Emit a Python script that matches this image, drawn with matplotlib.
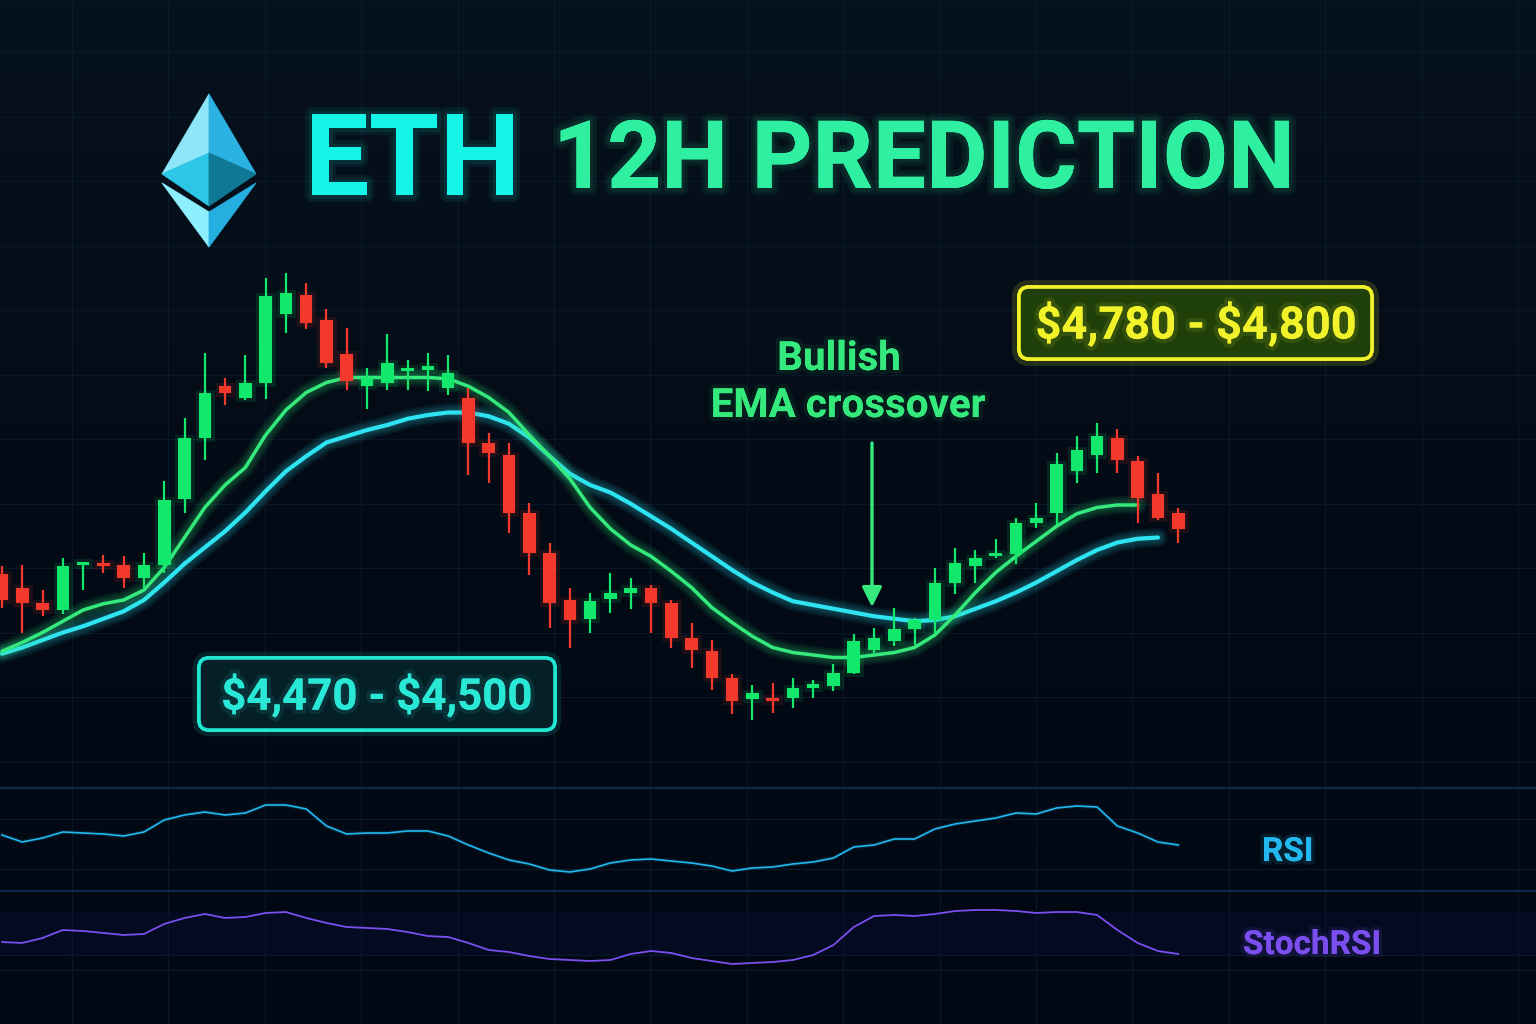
#
# ETH 12H prediction chart: candles, two EMAs, RSI and StochRSI strips
#

import numpy as np
import matplotlib
matplotlib.use("Agg")
import matplotlib.pyplot as plt
import matplotlib.patheffects as pe
from matplotlib.patches import Polygon, FancyBboxPatch, Rectangle

# ---- data ----
opens = [4581, 4570, 4558, 4552, 4588, 4588, 4588, 4578, 4588, 4641,
         4690, 4731, 4722, 4734, 4789, 4804, 4784, 4757, 4731, 4734,
         4743, 4744, 4730, 4722, 4686, 4676, 4630, 4598, 4560, 4545,
         4561, 4566, 4570, 4558, 4530, 4519, 4498, 4481, 4482, 4482,
         4490, 4491, 4502, 4520, 4527, 4537, 4544, 4574, 4587, 4595,
         4597, 4622, 4630, 4663, 4676, 4690, 4671, 4645, 4630]
highs = [4587, 4588, 4568, 4594, 4590, 4596, 4595, 4598, 4655, 4706,
         4758, 4738, 4756, 4818, 4822, 4814, 4793, 4778, 4746, 4773,
         4752, 4758, 4756, 4730, 4694, 4686, 4638, 4606, 4570, 4566,
         4582, 4578, 4572, 4560, 4542, 4528, 4501, 4492, 4494, 4498,
         4496, 4509, 4533, 4538, 4554, 4546, 4586, 4602, 4600, 4609,
         4626, 4638, 4678, 4691, 4702, 4697, 4675, 4662, 4634]
lows = [4554, 4534, 4547, 4549, 4568, 4582, 4570, 4570, 4582, 4630,
        4672, 4716, 4720, 4721, 4774, 4777, 4746, 4728, 4713, 4728,
        4728, 4727, 4724, 4660, 4654, 4614, 4580, 4538, 4522, 4534,
        4550, 4553, 4534, 4522, 4506, 4488, 4469, 4464, 4470, 4474,
        4482, 4487, 4501, 4518, 4523, 4524, 4534, 4565, 4574, 4594,
        4589, 4618, 4620, 4654, 4662, 4662, 4622, 4624, 4606]
closes = [4560, 4558, 4552, 4587, 4589, 4587, 4578, 4588, 4640, 4690,
          4726, 4726, 4734, 4803, 4806, 4782, 4750, 4735, 4738, 4750,
          4746, 4747, 4742, 4686, 4678, 4630, 4598, 4558, 4544, 4559,
          4566, 4570, 4558, 4530, 4520, 4498, 4479, 4486, 4479, 4490,
          4493, 4502, 4527, 4530, 4537, 4544, 4574, 4590, 4594, 4598,
          4622, 4626, 4669, 4680, 4691, 4672, 4642, 4626, 4617]

ema_fast = [4519, 4526, 4534, 4543, 4552, 4557, 4560, 4568, 4586, 4610,
            4634, 4652, 4666, 4692, 4712, 4726, 4734, 4738, 4738, 4738,
            4738, 4738, 4737, 4731, 4722, 4710, 4692, 4675, 4657, 4634,
            4617, 4604, 4595, 4583, 4570, 4554, 4542, 4531, 4522, 4518,
            4516, 4514, 4514, 4516, 4518, 4522, 4532, 4548, 4566, 4582,
            4595, 4607, 4619, 4629, 4634, 4636, 4636]
ema_slow = [4517, 4522, 4528, 4534, 4539, 4545, 4551, 4560, 4574, 4589,
            4602, 4615, 4630, 4647, 4663, 4675, 4686, 4691, 4696, 4700,
            4705, 4708, 4710, 4710, 4707, 4701, 4690, 4675, 4661, 4652,
            4646, 4637, 4627, 4617, 4606, 4595, 4584, 4574, 4566, 4559,
            4556, 4553, 4550, 4547, 4545, 4543, 4544, 4547, 4553, 4559,
            4566, 4574, 4583, 4592, 4600, 4606, 4609, 4610]

rsi = [56.0, 53.2, 54.8, 57.2, 56.8, 56.4, 55.6, 57.2, 62.0, 64.0,
       65.2, 64.0, 64.8, 68.0, 68.0, 66.4, 59.6, 56.4, 56.8, 56.8,
       57.6, 57.6, 55.6, 52.0, 48.8, 46.0, 44.4, 42.0, 41.2, 42.4,
       44.8, 46.0, 46.4, 45.6, 44.8, 43.6, 41.6, 42.8, 43.2, 44.4,
       45.2, 46.8, 51.2, 52.0, 54.4, 54.4, 58.4, 60.4, 61.6, 62.8,
       64.8, 64.4, 66.8, 67.6, 67.2, 59.6, 56.8, 53.2, 52.0]
stoch_rsi = [42.6, 41.2, 48.6, 60.4, 58.9, 56.0, 53.0, 54.5, 69.3, 78.2,
             84.1, 78.2, 79.6, 85.6, 87.0, 78.2, 70.8, 64.8, 63.4, 61.9,
             57.4, 51.5, 50.0, 41.2, 30.8, 27.8, 21.9, 17.5, 16.0, 14.5,
             16.0, 24.9, 29.3, 26.4, 19.0, 14.5, 10.1, 11.6, 13.0, 16.0,
             23.4, 38.2, 64.8, 81.1, 82.6, 81.1, 84.1, 88.5, 90.0, 90.0,
             88.5, 85.6, 87.0, 87.0, 82.6, 60.4, 41.2, 29.3, 24.9]

support_label = "$4,470 - $4,500"
target_label = "$4,780 - $4,800"

# ---- colours ----
BG = "#030a14"
GRID = "#0c1e30"
UP = "#12e86c"
DOWN = "#f2392c"
EMA_FAST = "#35ea7c"
EMA_SLOW = "#2fe4f2"
CYAN = "#22ecd8"
TITLE_GREEN = "#2ef0a0"
YELLOW = "#f2f22a"
RSI_C = "#22b8f0"
STOCH_C = "#7b4ef0"

W, H = 1536, 1024
XLIM = (-2 / 20.28, (W - 2) / 20.28)


def glow(color, widths=(10, 5), alpha=0.07):
    effects = [pe.withStroke(linewidth=w, foreground=color, alpha=alpha)
               for w in widths]
    return effects + [pe.Normal()]


def glow_plot(ax, x, y, color, lw, steps=5, spread=2.2, alpha=0.06):
    for k in range(steps, 0, -1):
        ax.plot(x, y, color=color, lw=lw + k * spread, alpha=alpha,
                solid_capstyle="round", solid_joinstyle="round")
    ax.plot(x, y, color=color, lw=lw, solid_capstyle="round",
            solid_joinstyle="round")


fig = plt.figure(figsize=(W / 100, H / 100), dpi=100)
fig.patch.set_facecolor(BG)

# background / decoration axes in pixel units
bg = fig.add_axes([0, 0, 1, 1])
bg.set_xlim(0, W)
bg.set_ylim(H, 0)
bg.axis("off")
grad = np.linspace(0, 1, 256)[:, None]
bg.imshow(grad, extent=(0, W, H, 0), aspect="auto", zorder=0,
          cmap=matplotlib.colors.LinearSegmentedColormap.from_list(
              "bg", ["#06121c", "#030b16", "#020813"]))

for gx in np.arange(72, W, 96.4):
    bg.axvline(gx, color=GRID, lw=0.8, alpha=0.7, zorder=1)
for gy in np.arange(52, 780, 64.5):
    bg.axhline(gy, color=GRID, lw=0.8, alpha=0.7, zorder=1)
for gy in (819, 869, 955, 970):
    bg.axhline(gy, color=GRID, lw=0.8, alpha=0.8, zorder=1)
for gy in (788, 891):
    bg.axhline(gy, color="#10284a", lw=1.6, zorder=1)
bg.add_patch(Rectangle((0, 912), W, 43, color="#0a1244", alpha=0.3,
                       lw=0, zorder=1))

# ethereum logo
logo = [
    ([(209, 94), (162, 174), (209, 153)], "#8ee6f8"),
    ([(209, 94), (256, 174), (209, 153)], "#2bb2e2"),
    ([(162, 174), (209, 153), (209, 206)], "#2cc6e6"),
    ([(256, 174), (209, 153), (209, 206)], "#0f7894"),
    ([(162, 183), (209, 212), (209, 247)], "#8ef0ff"),
    ([(256, 183), (209, 212), (209, 247)], "#25aee0"),
]
for pts, col in logo:
    bg.add_patch(Polygon(pts, closed=True, facecolor=col, edgecolor=col,
                         lw=0.6, zorder=3))

# title
bg.text(305, 195, "ETH", color="#14f5e8", fontsize=82, fontweight="bold",
        family="Roboto", va="baseline", ha="left", zorder=4,
        path_effects=glow("#14f5e8"))
bg.text(553, 188, "12H PREDICTION", color=TITLE_GREEN, fontsize=68,
        fontweight="bold", family="Roboto", va="baseline", ha="left",
        zorder=4, path_effects=glow(TITLE_GREEN))

# ---- price axes ----
ax = fig.add_axes([0, 0, 1, 1])
ax.set_facecolor("none")
ax.set_xlim(*XLIM)
ax.set_ylim(5040 - 0.8 * H, 5040)
ax.axis("off")

idx = np.arange(len(opens))
o = np.array(opens)
c = np.array(closes)
up = c >= o
colors = np.where(up, UP, DOWN)
body_lo = np.minimum(o, c)
body_h = np.maximum(np.abs(c - o), 2.5)

for i in idx:
    ax.vlines(i, lows[i], highs[i], color=colors[i], lw=1.6, zorder=5)
ax.bar(idx, body_h, bottom=body_lo, width=0.62, color=colors,
       edgecolor=colors, lw=5, alpha=0.12, zorder=4)
ax.bar(idx, body_h, bottom=body_lo, width=0.62, color=colors, lw=0,
       zorder=6)

glow_plot(ax, np.arange(len(ema_slow)), ema_slow, EMA_SLOW, 3.0)
glow_plot(ax, np.arange(len(ema_fast)), ema_fast, EMA_FAST, 2.5)

# price zone boxes
bg.add_patch(FancyBboxPatch((199, 658), 356, 72,
                            boxstyle="round,pad=0,rounding_size=10",
                            facecolor="#062028", edgecolor=CYAN, lw=2.6,
                            alpha=0.95, zorder=7,
                            path_effects=[pe.withStroke(linewidth=9,
                                                        foreground=CYAN,
                                                        alpha=0.12),
                                          pe.Normal()]))
bg.text(377, 696, support_label, color="#2ae8d6", fontsize=31.5,
        fontweight="bold", family="Roboto", ha="center", va="center",
        parse_math=False, zorder=8,
        path_effects=glow("#2ae8d6", widths=(6,), alpha=0.1))

bg.add_patch(FancyBboxPatch((1019, 287), 353, 72,
                            boxstyle="round,pad=0,rounding_size=10",
                            facecolor="#20400a", edgecolor=YELLOW, lw=2.6,
                            zorder=7,
                            path_effects=[pe.withStroke(linewidth=10,
                                                        foreground=YELLOW,
                                                        alpha=0.15),
                                          pe.Normal()]))
bg.text(1196, 325, target_label, color=YELLOW, fontsize=32.5,
        fontweight="bold", family="Roboto", ha="center", va="center",
        parse_math=False, zorder=8,
        path_effects=glow(YELLOW, widths=(6,), alpha=0.1))

# crossover annotation
bg.text(839, 370, "Bullish", color=EMA_FAST, fontsize=29,
        fontweight="bold", family="Roboto", ha="center", va="baseline",
        zorder=8, path_effects=glow(EMA_FAST, widths=(6,), alpha=0.08))
bg.text(848, 417, "EMA crossover", color=EMA_FAST, fontsize=29,
        fontweight="bold", family="Roboto", ha="center", va="baseline",
        zorder=8, path_effects=glow(EMA_FAST, widths=(6,), alpha=0.08))
bg.annotate("", xy=(872, 607), xytext=(872, 443),
            arrowprops=dict(arrowstyle="-|>", color=EMA_FAST, lw=2.4,
                            mutation_scale=30, shrinkA=0, shrinkB=0),
            zorder=8)

# ---- indicator strips ----
ax_rsi = fig.add_axes([0, (H - 890) / H, 1, 110 / H])
ax_rsi.set_facecolor("none")
ax_rsi.set_xlim(*XLIM)
ax_rsi.set_ylim(34, 78)
ax_rsi.axis("off")
ax_rsi.plot(idx, rsi, color=RSI_C, lw=3, alpha=0.12)
ax_rsi.plot(idx, rsi, color=RSI_C, lw=1.2)

ax_st = fig.add_axes([0, (H - 985) / H, 1, 90 / H])
ax_st.set_facecolor("none")
ax_st.set_xlim(*XLIM)
ax_st.set_ylim(-21, 112.2)
ax_st.axis("off")
ax_st.plot(idx, stoch_rsi, color=STOCH_C, lw=1.3)

bg.text(1262, 861, "RSI", color=RSI_C, fontsize=24, fontweight="bold",
        family="Roboto", ha="left", va="baseline", zorder=8,
        path_effects=glow(RSI_C, widths=(5,), alpha=0.12))
bg.text(1243, 954, "StochRSI", color=STOCH_C, fontsize=24,
        fontweight="bold", family="Roboto", ha="left", va="baseline",
        zorder=8, path_effects=glow(STOCH_C, widths=(5,), alpha=0.12))

fig.savefig("out.png", dpi=100, facecolor=BG)
